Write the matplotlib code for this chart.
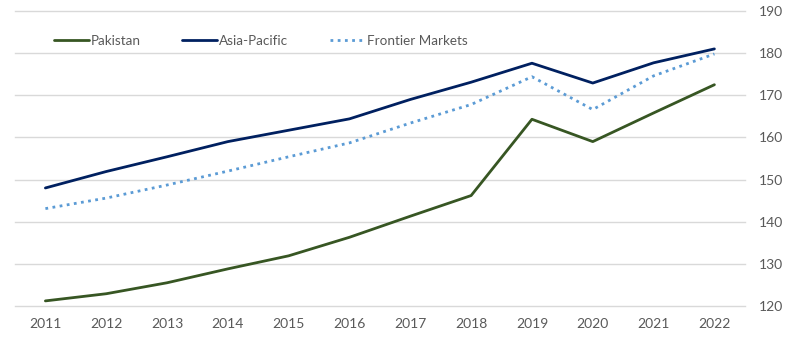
import matplotlib
matplotlib.use("Agg")
import matplotlib.pyplot as plt

# ── Data ──────────────────────────────────────────────────────────────────────
years = [2011, 2012, 2013, 2014, 2015, 2016, 2017, 2018, 2019, 2020, 2021, 2022]
pakistan = [121.2, 122.9, 125.5, 128.8, 131.9, 136.3, 141.3, 146.2, 164.3, 159.0, 165.8, 172.5]
asia_pacific = [148.0, 151.9, 155.4, 159.0, 161.7, 164.4, 169.0, 173.1, 177.6, 172.9, 177.7, 181.0]
frontier = [143.1, 145.6, 148.7, 152.0, 155.4, 158.7, 163.4, 167.8, 174.4, 166.6, 174.6, 179.8]
y_ticks = [120, 130, 140, 150, 160, 170, 180, 190]

# ── Palette ───────────────────────────────────────────────────────────────────
_PAK_COLOR = "#375623"
_APAC_COLOR = "#002060"
_FM_COLOR = "#5B9BD5"
_TEXT = "#595959"
_GRID = "#D9D9D9"

plt.rcParams["font.family"] = ["Lato", "DejaVu Sans"]

fig = plt.figure(figsize=(7.89, 3.43), dpi=100)
ax = fig.add_axes([0.019, 0.108, 0.925, 0.86])

ax.plot(years, pakistan, color=_PAK_COLOR, lw=2.0, label="Pakistan",
        solid_capstyle="round")
ax.plot(years, asia_pacific, color=_APAC_COLOR, lw=2.0, label="Asia-Pacific",
        solid_capstyle="round")
ax.plot(years, frontier, color=_FM_COLOR, lw=2.0, label="Frontier Markets",
        linestyle=(0, (1, 1.6)))

ax.set_xlim(2010.5, 2022.5)
ax.set_ylim(120, 190)
ax.set_xticks(years)
ax.set_yticks(y_ticks)
ax.yaxis.tick_right()
ax.tick_params(axis="both", length=0, labelsize=10, labelcolor=_TEXT)
ax.tick_params(axis="x", pad=9)
ax.tick_params(axis="y", pad=10)
for s in ax.spines.values():
    s.set_visible(False)
ax.grid(axis="y", color=_GRID, lw=1.0)
for gl in ax.get_ygridlines():
    gl.set_clip_on(False)
ax.set_axisbelow(True)

leg = ax.legend(ncol=3, frameon=False, loc="upper left",
                bbox_to_anchor=(0.037, 0.96), fontsize=9.7,
                handlelength=2.6, handletextpad=0.15, columnspacing=3.05)
for t in leg.get_texts():
    t.set_color(_TEXT)

fig.savefig("out.png", dpi=100)
